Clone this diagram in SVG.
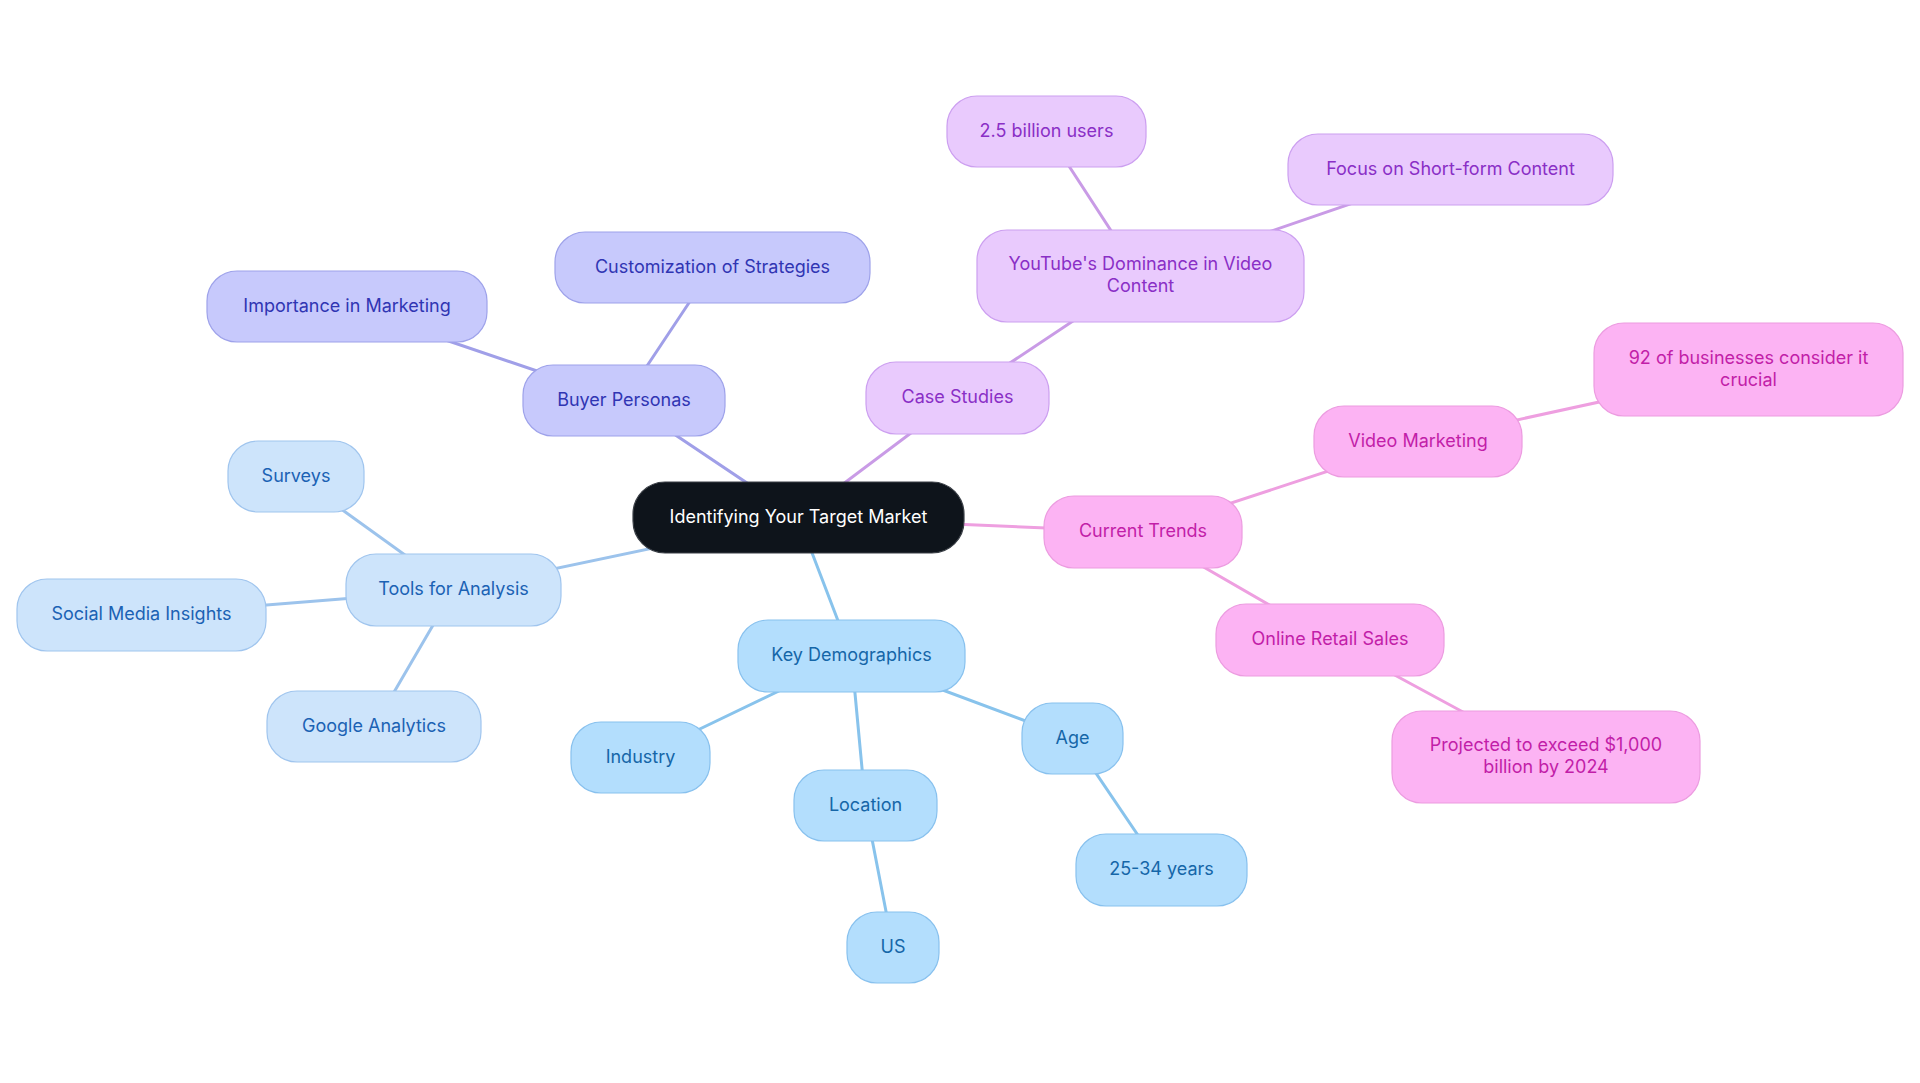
<svg xmlns="http://www.w3.org/2000/svg" width="1920" height="1083" viewBox="0 0 1920 1083">
<style>
text{font-family:Inter,"Noto Sans","Liberation Sans",sans-serif;font-size:18px;text-anchor:middle;dominant-baseline:central}
.e{stroke-width:3;fill:none;stroke-linecap:round}
.eb{stroke:#a09fe8}.ec{stroke:#c99be6}.et{stroke:#ee9fe0}.eo{stroke:#9cc3ec}.ek{stroke:#88c3ec}
.n rect{stroke-width:1.2}
.root rect{fill:#0e141b;stroke:#3a3f46}.root text{fill:#ffffff}
.b rect{fill:#c7c9fc;stroke:#9ea2ea}.b text{fill:#3035b3}
.c rect{fill:#e9cafd;stroke:#cc9ff0}.c text{fill:#8a2fc6}
.t rect{fill:#fcb3f3;stroke:#ec9ce0}.t text{fill:#c21ea8}
.o rect{fill:#cde4fb;stroke:#a0c5ee}.o text{fill:#1b62b4}
.k rect{fill:#b3defd;stroke:#88c1ee}.k text{fill:#1566a8}
</style>
<rect width="1920" height="1083" fill="#ffffff"/>
<g id="connectors">
<line class="e eb" x1="798.5" y1="517.5" x2="624" y2="400.5"/>
<line class="e ec" x1="798.5" y1="517.5" x2="957.5" y2="398"/>
<line class="e et" x1="798.5" y1="517.5" x2="1143" y2="532"/>
<line class="e ek" x1="798.5" y1="517.5" x2="851.5" y2="656"/>
<line class="e eo" x1="798.5" y1="517.5" x2="453.5" y2="590"/>
<line class="e eb" x1="624" y1="400.5" x2="347" y2="306.5"/>
<line class="e eb" x1="624" y1="400.5" x2="712.5" y2="267.5"/>
<line class="e ec" x1="957.5" y1="398" x2="1140.5" y2="276"/>
<line class="e ec" x1="1140.5" y1="276" x2="1046.5" y2="131.5"/>
<line class="e ec" x1="1140.5" y1="276" x2="1450.5" y2="169.5"/>
<line class="e et" x1="1143" y1="532" x2="1418" y2="441.5"/>
<line class="e et" x1="1143" y1="532" x2="1330" y2="640"/>
<line class="e et" x1="1418" y1="441.5" x2="1748.5" y2="369.5"/>
<line class="e et" x1="1330" y1="640" x2="1546" y2="757"/>
<line class="e eo" x1="453.5" y1="590" x2="296" y2="476.5"/>
<line class="e eo" x1="453.5" y1="590" x2="141.5" y2="615"/>
<line class="e eo" x1="453.5" y1="590" x2="374" y2="726.5"/>
<line class="e ek" x1="851.5" y1="656" x2="640.5" y2="757.5"/>
<line class="e ek" x1="851.5" y1="656" x2="865.5" y2="805.5"/>
<line class="e ek" x1="851.5" y1="656" x2="1072.5" y2="738.5"/>
<line class="e ek" x1="865.5" y1="805.5" x2="893" y2="947.5"/>
<line class="e ek" x1="1072.5" y1="738.5" x2="1161.5" y2="870"/>
</g>
<g id="root" class="n root"><rect x="633" y="482" width="331" height="71" rx="32"/><text x="798.5" y="516">Identifying Your Target Market</text></g>
<g id="buyer-personas" class="n b"><rect x="523" y="365" width="202" height="71" rx="30"/><text x="624" y="399">Buyer Personas</text></g>
<g id="customization" class="n b"><rect x="555" y="232" width="315" height="71" rx="30"/><text x="712.5" y="266">Customization of Strategies</text></g>
<g id="importance" class="n b"><rect x="207" y="271" width="280" height="71" rx="30"/><text x="347" y="305">Importance in Marketing</text></g>
<g id="case-studies" class="n c"><rect x="866" y="362" width="183" height="72" rx="30"/><text x="957.5" y="396.5">Case Studies</text></g>
<g id="youtube" class="n c"><rect x="977" y="230" width="327" height="92" rx="30"/><text x="1140.5" y="263.5">YouTube's Dominance in Video</text><text x="1140.5" y="285.5">Content</text></g>
<g id="billion-users" class="n c"><rect x="947" y="96" width="199" height="71" rx="30"/><text x="1046.5" y="130">2.5 billion users</text></g>
<g id="short-form" class="n c"><rect x="1288" y="134" width="325" height="71" rx="30"/><text x="1450.5" y="168">Focus on Short-form Content</text></g>
<g id="current-trends" class="n t"><rect x="1044" y="496" width="198" height="72" rx="30"/><text x="1143" y="530.5">Current Trends</text></g>
<g id="video-marketing" class="n t"><rect x="1314" y="406" width="208" height="71" rx="30"/><text x="1418" y="440">Video Marketing</text></g>
<g id="businesses" class="n t"><rect x="1594" y="323" width="309" height="93" rx="30"/><text x="1748.5" y="357">92 of businesses consider it</text><text x="1748.5" y="379">crucial</text></g>
<g id="online-retail" class="n t"><rect x="1216" y="604" width="228" height="72" rx="30"/><text x="1330" y="638.5">Online Retail Sales</text></g>
<g id="projected" class="n t"><rect x="1392" y="711" width="308" height="92" rx="30"/><text x="1546" y="744.5">Projected to exceed $1,000</text><text x="1546" y="766.5">billion by 2024</text></g>
<g id="tools" class="n o"><rect x="346" y="554" width="215" height="72" rx="30"/><text x="453.5" y="588.5">Tools for Analysis</text></g>
<g id="surveys" class="n o"><rect x="228" y="441" width="136" height="71" rx="30"/><text x="296" y="475">Surveys</text></g>
<g id="social-media" class="n o"><rect x="17" y="579" width="249" height="72" rx="30"/><text x="141.5" y="613.5">Social Media Insights</text></g>
<g id="google-analytics" class="n o"><rect x="267" y="691" width="214" height="71" rx="30"/><text x="374" y="725">Google Analytics</text></g>
<g id="key-demographics" class="n k"><rect x="738" y="620" width="227" height="72" rx="30"/><text x="851.5" y="654.5">Key Demographics</text></g>
<g id="industry" class="n k"><rect x="571" y="722" width="139" height="71" rx="30"/><text x="640.5" y="756">Industry</text></g>
<g id="location" class="n k"><rect x="794" y="770" width="143" height="71" rx="30"/><text x="865.5" y="804">Location</text></g>
<g id="us" class="n k"><rect x="847" y="912" width="92" height="71" rx="30"/><text x="893" y="946">US</text></g>
<g id="age" class="n k"><rect x="1022" y="703" width="101" height="71" rx="30"/><text x="1072.5" y="737">Age</text></g>
<g id="age-range" class="n k"><rect x="1076" y="834" width="171" height="72" rx="30"/><text x="1161.5" y="868.5">25-34 years</text></g>
</svg>
